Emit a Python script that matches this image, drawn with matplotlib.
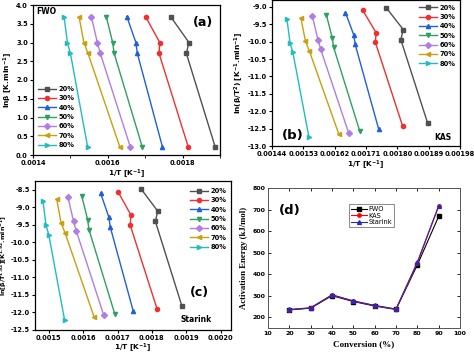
import matplotlib
matplotlib.use("Agg")
import matplotlib.pyplot as plt
from matplotlib.ticker import FormatStrFormatter, MultipleLocator, FixedLocator

plt.rcParams['font.family'] = 'DejaVu Sans'
plt.rcParams['font.weight'] = 'bold'
plt.rcParams['mathtext.default'] = 'bf'
plt.rcParams['axes.unicode_minus'] = False

# conversion levels and the colours / markers of the three isoconversional panels
labels = ['20%', '30%', '40%', '50%', '60%', '70%', '80%']
colors = ['#505050', '#f03030', '#2060d8', '#2fa060', '#b07ee0', '#c8a010', '#20bcc0']
markers = ['s', 'o', '^', 'v', 'D', '<', '>']

# 1/T values (top point first, bottom point last) for each conversion
x_20 = [0.001768, 0.001817, 0.001810, 0.001887]
x_30 = [0.001701, 0.001739, 0.001737, 0.001815]
x_40 = [0.001651, 0.001675, 0.001679, 0.001746]
x_50 = [0.001596, 0.001613, 0.001617, 0.001692]
x_60 = [0.001556, 0.001572, 0.001580, 0.001660]
x_70 = [0.001523, 0.001536, 0.001547, 0.001632]
x_80 = [0.001483, 0.001492, 0.001500, 0.001546]
inv_T = [x_20, x_30, x_40, x_50, x_60, x_70, x_80]

# FWO: ln(beta), same for every conversion
ln_beta = [3.69, 3.00, 2.71, 0.22]

# KAS: ln(beta/T^2)
kas = [
    [-9.02, -9.65, -9.94, -12.34],
    [-9.10, -9.74, -10.02, -12.42],
    [-9.16, -9.81, -10.08, -12.50],
    [-9.22, -9.89, -10.16, -12.57],
    [-9.27, -9.94, -10.22, -12.62],
    [-9.32, -9.98, -10.26, -12.66],
    [-9.36, -10.04, -10.31, -12.74],
]

# Starink: ln(beta/T^1.92)
starink = [
    [-8.47, -9.11, -9.40, -11.81],
    [-8.55, -9.22, -9.51, -11.90],
    [-8.60, -9.29, -9.57, -11.97],
    [-8.68, -9.35, -9.64, -12.04],
    [-8.71, -9.40, -9.67, -12.08],
    [-8.76, -9.45, -9.72, -12.13],
    [-8.81, -9.51, -9.78, -12.21],
]

# activation energies (kJ/mol)
conversion = [20, 30, 40, 50, 60, 70, 80, 90]
ea_fwo = [234, 242, 300, 273, 252, 236, 443, 668]
ea_kas = [235, 243, 303, 275, 254, 237, 452, 715]
ea_starink = [236, 244, 304, 276, 255, 238, 456, 718]

fig = plt.figure(figsize=(4.74, 3.56), dpi=100)
ax_a = fig.add_axes([33/474, 1-155/356, 187/474, 150/356])
ax_b = fig.add_axes([272/474, 1-146/356, 188/474, 146/356])
ax_c = fig.add_axes([35/474, 1-330/356, 196/474, 149/356])
ax_d = fig.add_axes([268/474, 1-328/356, 192/474, 140/356])

fs_tick = 4.8
fs_lab = 5.3
fs_leg = 4.8


def draw_series(ax, ys_list):
    for xs, ys, c, m, lab in zip(inv_T, ys_list, colors, markers, labels):
        ax.plot(xs, ys, color=c, marker=m, markersize=3.0, lw=1.0, label=lab)
    ax.tick_params(labelsize=fs_tick, width=0.8, length=2.2, pad=1.5)
    for s in ax.spines.values():
        s.set_linewidth(0.9)
    ax.yaxis.set_major_formatter(FormatStrFormatter('%.1f'))


def small_legend(ax, loc, anchor):
    ax.legend(loc=loc, bbox_to_anchor=anchor, frameon=False, fontsize=fs_leg,
              labelspacing=0.5, handlelength=2.8, handletextpad=0.3, borderpad=0.2)


# (a) FWO
draw_series(ax_a, [ln_beta] * 7)
ax_a.set_xlim(0.0014, 0.0019)
ax_a.set_ylim(0, 4)
ax_a.xaxis.set_major_locator(MultipleLocator(0.0002))
ax_a.xaxis.set_minor_locator(MultipleLocator(0.0001))
ax_a.yaxis.set_major_locator(MultipleLocator(0.5))
ax_a.xaxis.set_major_formatter(FormatStrFormatter('%.4f'))
ax_a.set_xlabel('1/T [K$^{-1}$]', fontsize=fs_lab, fontweight='bold', labelpad=1)
ax_a.set_ylabel('lnβ [K.min$^{-1}$]', fontsize=fs_lab, fontweight='bold', labelpad=1)
small_legend(ax_a, 'upper left', (0.0, 0.49))
ax_a.text(0.02, 0.955, 'FWO', transform=ax_a.transAxes, fontsize=5.5, fontweight='bold',
          ha='left', va='center')
ax_a.text(0.91, 0.885, '(a)', transform=ax_a.transAxes, fontsize=9, fontweight='bold',
          ha='center', va='center')

# (b) KAS
draw_series(ax_b, kas)
ax_b.set_xlim(0.00144, 0.00198)
ax_b.set_ylim(-13.0, -8.8)
ax_b.xaxis.set_major_locator(FixedLocator([0.00144 + 0.00009 * i for i in range(7)]))
ax_b.xaxis.set_major_formatter(FormatStrFormatter('%.5f'))
ax_b.yaxis.set_major_locator(MultipleLocator(0.5))
ax_b.set_xlabel('1/T [K$^{-1}$]', fontsize=fs_lab, fontweight='bold', labelpad=1)
ax_b.set_ylabel('ln(β/T$^{2}$) [K$^{-1}$.min$^{-1}$]', fontsize=fs_lab, fontweight='bold',
                labelpad=1)
small_legend(ax_b, 'upper right', (1.0, 1.0))
ax_b.text(0.05, 0.07, '(b)', transform=ax_b.transAxes, fontsize=9.5, fontweight='bold',
          ha='left', va='center')
ax_b.text(0.91, 0.055, 'KAS', transform=ax_b.transAxes, fontsize=5.5, fontweight='bold',
          ha='center', va='center')

# (c) Starink
draw_series(ax_c, starink)
ax_c.set_xlim(0.00146, 0.00203)
ax_c.set_ylim(-12.5, -8.25)
ax_c.xaxis.set_major_locator(MultipleLocator(0.0001))
ax_c.xaxis.set_major_formatter(FormatStrFormatter('%.4f'))
ax_c.yaxis.set_major_locator(MultipleLocator(0.5))
ax_c.set_xlabel('1/T [K$^{-1}$]', fontsize=fs_lab, fontweight='bold', labelpad=0.5)
ax_c.set_ylabel('ln[β/T$^{1.92}$][K$^{1.92}$.min$^{-1}$]', fontsize=4.6,
                fontweight='bold', labelpad=1)
small_legend(ax_c, 'upper right', (1.0, 0.985))
ax_c.text(0.84, 0.255, '(c)', transform=ax_c.transAxes, fontsize=9, fontweight='bold',
          ha='center', va='center')
ax_c.text(0.82, 0.07, 'Starink', transform=ax_c.transAxes, fontsize=5.5, fontweight='bold',
          ha='center', va='center')

# (d) activation energy
ax_d.plot(conversion, ea_fwo, color='black', marker='s', markersize=2.4, lw=0.8, label='FWO')
ax_d.plot(conversion, ea_kas, color='red', marker='o', markersize=2.4, lw=0.8, label='KAS')
ax_d.plot(conversion, ea_starink, color='#2a2ab8', marker='^', markersize=2.8, lw=0.8,
          label='Starink')
ax_d.set_xlim(10, 100)
ax_d.set_ylim(150, 800)
ax_d.xaxis.set_major_locator(MultipleLocator(10))
ax_d.yaxis.set_major_locator(FixedLocator([200, 300, 400, 500, 600, 700, 800]))
ax_d.tick_params(labelsize=4.5, direction='in', top=True, right=True, width=0.6, length=2,
                 pad=2)
for s in ax_d.spines.values():
    s.set_linewidth(0.7)
    s.set_color('#555555')
ax_d.set_xlabel('Conversion (%)', fontsize=6.5, fontweight='bold', family='Liberation Serif',
                labelpad=3)
ax_d.set_ylabel('Activation Energy (kJ/mol)', fontsize=6.3, fontweight='bold',
                family='Liberation Serif', labelpad=3)
leg = ax_d.legend(loc='upper center', bbox_to_anchor=(0.54, 0.91), fontsize=4.8,
                  fancybox=False, edgecolor='#555555', labelspacing=0.1,
                  handlelength=2.4, handletextpad=0.3, borderpad=0.3)
leg.get_frame().set_linewidth(0.6)
for t in leg.get_texts():
    t.set_fontweight('normal')
ax_d.text(0.115, 0.84, '(d)', transform=ax_d.transAxes, fontsize=9.5, fontweight='bold',
          ha='center', va='center')

fig.savefig('out.png', dpi=100)
